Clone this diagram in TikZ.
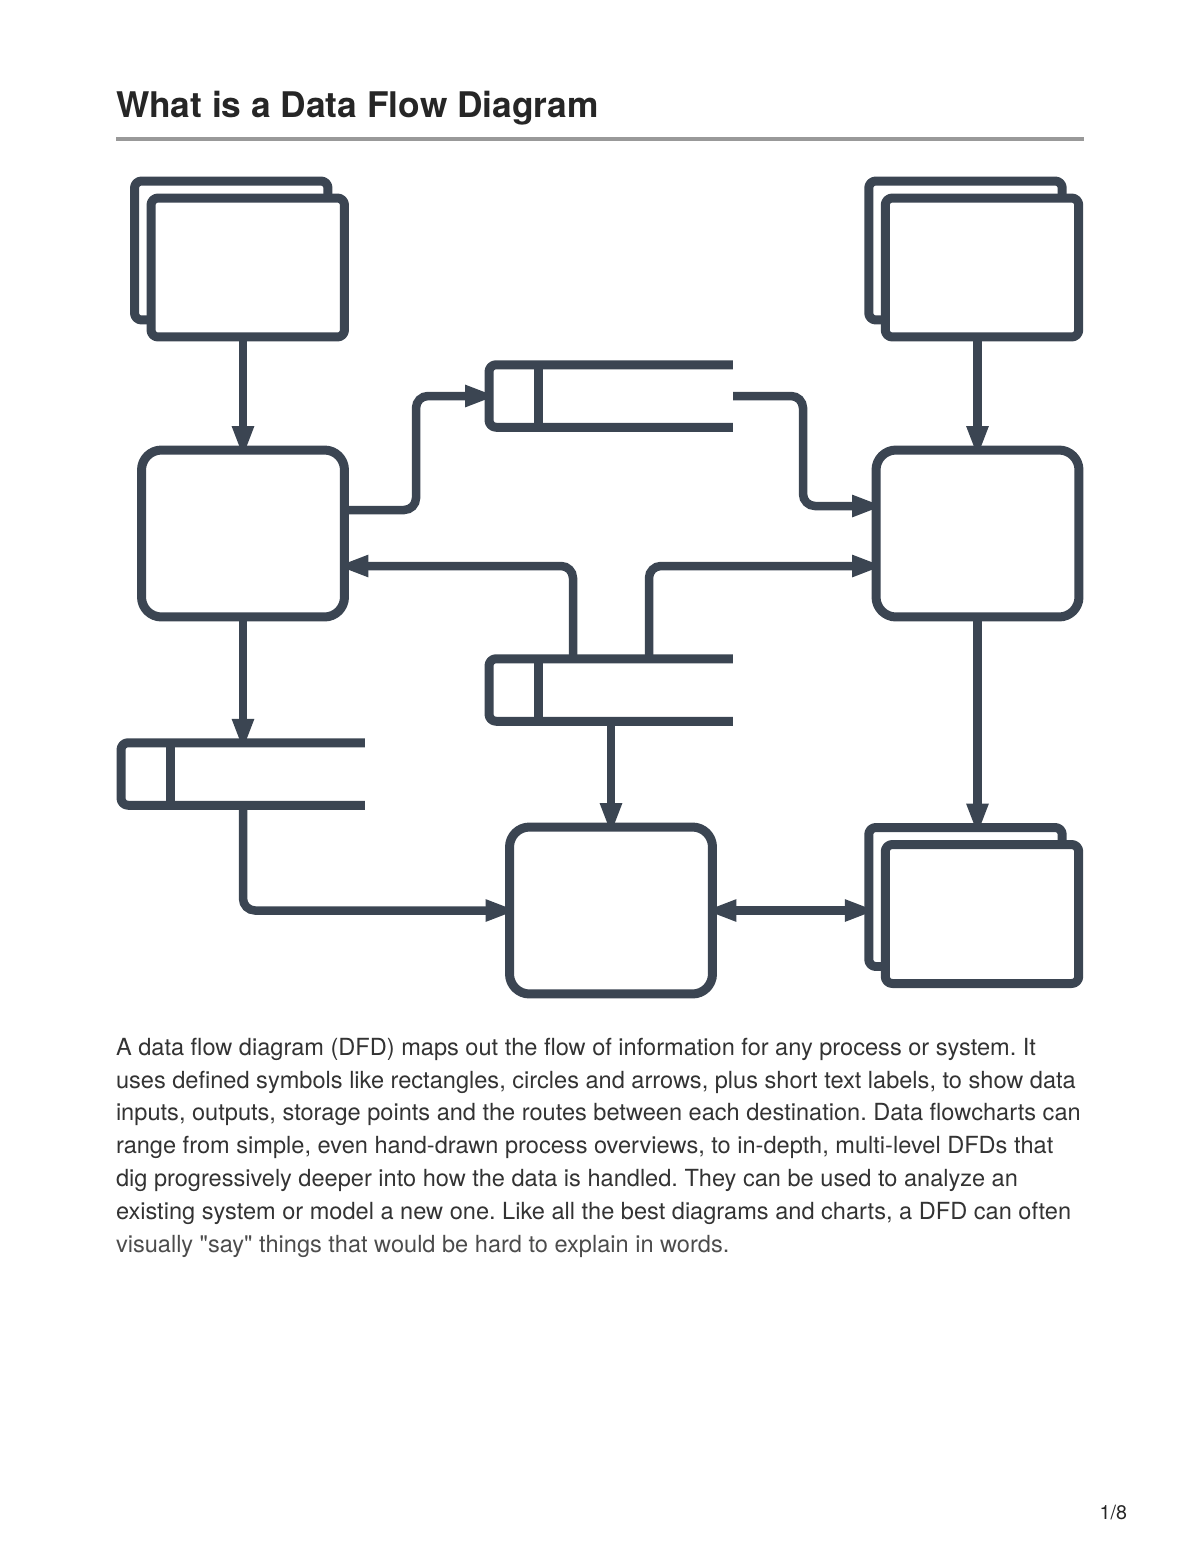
\documentclass[tikz,border=0pt]{standalone}
\usepackage{fontspec}
\setmainfont[Ligatures=TeXOff]{TeX Gyre Heros}
\usetikzlibrary{calc}
\usetikzlibrary{arrows.meta}
\usetikzlibrary{backgrounds}
\definecolor{dfdline}{HTML}{3B4552}
\tikzset{every picture/.style={x=0.02cm,y=-0.02cm,line width=0.18cm,line join=round},
every node/.style={inner sep=0pt,outer sep=0pt},
entity/.style={draw=dfdline,fill=white,rounded corners=0.14cm,minimum width=3.87cm,minimum height=2.78cm},
process/.style={draw=dfdline,fill=white,rounded corners=0.4cm,minimum width=4.06cm,minimum height=3.34cm},
storebox/.style={fill=white,minimum width=4.88cm,minimum height=1.25cm},
flow/.style={draw=dfdline,line width=0.17cm,rounded corners=0.24cm,-{Triangle[length=0.64cm,width=0.4cm]},shorten >=-0.16cm},
bothflow/.style={flow,{Triangle[length=0.64cm,width=0.4cm]}-{Triangle[length=0.64cm,width=0.4cm]},shorten <=-0.16cm}}

\begin{document}
\frenchspacing
\begin{tikzpicture}
\useasboundingbox (0,0) rectangle (1200,1553);
\node (title) [anchor=base west,font=\bfseries\fontsize{20.1}{24}\selectfont,text=black!85] at (116,117) {What is a Data Flow Diagram};
\coordinate (ruleend) at (1084,139);
\draw[black!40,line width=0.08cm] (title.west |- ruleend) -- (ruleend);
\node (entityAback) [entity] at (231.25,250.5) {};
\node (entityA) [entity] at (247.75,267.5) {};
\node (entityBback) [entity] at (965.5,250.5) {};
\node (entityB) [entity] at (982,267.5) {};
\node (entityCback) [entity] at (965.5,897) {};
\node (entityC) [entity] at (982,914) {};
\node (procA) [process] at (243,533.5) {};
\node (procB) [process] at (977.5,533.5) {};
\node (procC) [process] at (611,910.5) {};
\node (storeT) [storebox] at (611,396) {};
\node (storeM) [storebox] at (611,690) {};
\node (storeL) [storebox] at (243,774) {};
\foreach \s in {storeT,storeM,storeL} {
\draw[dfdline,rounded corners=0.14cm] (\s.north east) -- (\s.north west) -- (\s.south west) -- (\s.south east);
\draw[dfdline] ($(\s.north west)+(49,0)$) -- ($(\s.south west)+(49,0)$);
}
\begin{pgfonlayer}{background}
\draw[flow] (procA.north |- entityA.south) -- (procA.north);
\draw[flow] (procB.north |- entityB.south) -- (procB.north);
\draw[flow] ($(procA.east)+(0,-23.5)$) -| ($(storeT.west)+(-73,0)$) -- (storeT.west);
\draw[flow] (storeT.east) -| ($(procB.west)+(-73,-27.5)$) -- ($(procB.west)+(0,-27.5)$);
\draw[flow] ($(storeM.north)+(-38,0)$) |- ($(procA.east)+(0,32.5)$);
\draw[flow] ($(storeM.north)+(38,0)$) |- ($(procB.west)+(0,32.5)$);
\draw[flow] (procA.south) -- (procA.south |- storeL.north);
\draw[flow] (storeM.south) -- (procC.north);
\draw[flow] (storeL.south) |- (procC.west);
\draw[flow] (procB.south) -- (procB.south |- entityCback.north);
\draw[bothflow] (procC.east) -- (procC.east -| entityCback.west);
\end{pgfonlayer}
\node (body) [anchor=north west,align=left,font=\fontsize{13.42}{18.7}\selectfont,text=black!80] at (116,1038) {A data flow diagram (DFD) maps out the flow of information for any process or system. It\\
uses defined symbols like rectangles, circles and arrows, plus short text labels, to show data\\
inputs, outputs, storage points and the routes between each destination. Data flowcharts can\\
range from simple, even hand-drawn process overviews, to in-depth, multi-level DFDs that\\
dig progressively deeper into how the data is handled. They can be used to analyze an\\
existing system or model a new one. Like all the best diagrams and charts, a DFD can often\\
\textcolor{black!70}{visually "say" things that would be hard to explain in words.}};
\node (pagenum) [anchor=base east,font=\fontsize{11.2}{13}\selectfont,text=black!85] at (1127,1519) {1/8};
\end{tikzpicture}
\end{document}
